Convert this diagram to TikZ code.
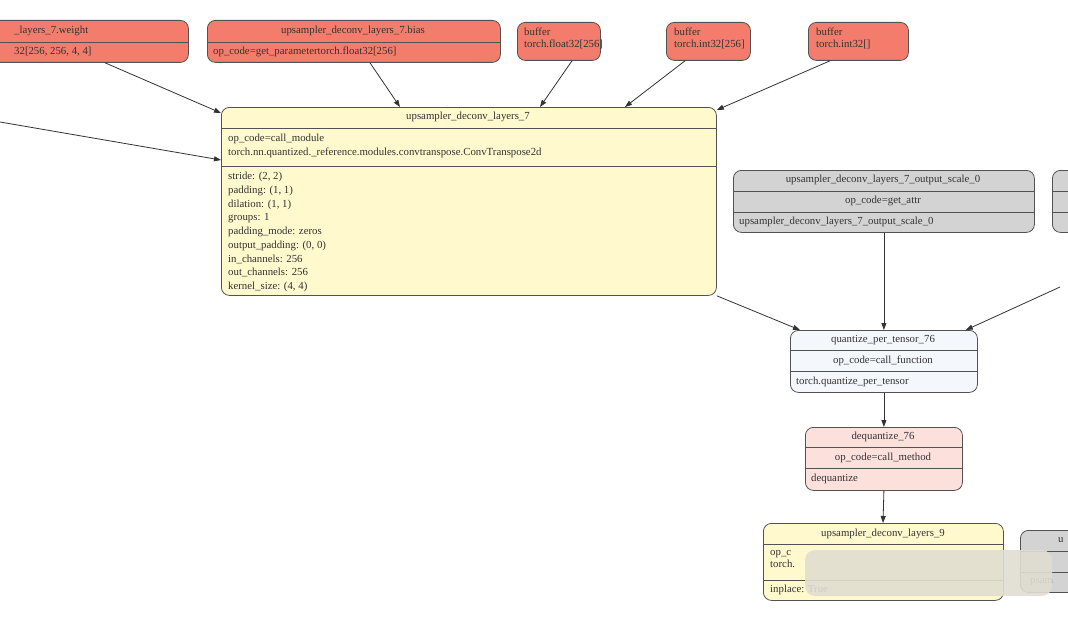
\documentclass[tikz,border=0pt]{standalone}
\usepackage{fontspec}
\setmainfont{Liberation Serif}
\usetikzlibrary{calc,arrows.meta}
\definecolor{salmon}{HTML}{F47C6C}
\definecolor{lemon}{HTML}{FFF9CD}
\definecolor{lgray}{HTML}{D3D3D3}
\definecolor{qblue}{HTML}{F4F7FC}
\definecolor{dqpink}{HTML}{FCE0DC}
\definecolor{ink}{HTML}{333333}
\tikzset{
  box/.style={draw=ink!85,line width=0.8pt,rounded corners=8pt,inner sep=0pt},
  dv/.style={draw=ink!85,line width=0.8pt},
  tx/.style={inner sep=0pt,text=ink,font=\fontsize{10.8}{13.75}\selectfont},
  ar/.style={draw=ink,line width=0.8pt,-{Triangle[length=7pt,width=5pt]}}
}
\newcommand{\mybox}[6]{% name, x1, y1, x2, y2, colour
  \node[box,fill=#6,minimum width=#4-#2,minimum height=#5-#3,anchor=north west] (#1) at (#2,#3) {};}
\begin{document}
\begin{tikzpicture}[x=1pt,y=-1pt]
\useasboundingbox (0,0) rectangle (1068,618);
\clip (0,0) rectangle (1068,618);
\fill[white] (0,0) rectangle (1068,618);
% weight
\mybox{wt}{-200}{20}{188}{62}{salmon}
\draw[dv] (-200,42) -- (188,42);
\node[tx,anchor=west] (wt1) at (14,31) {\_layers\_7.weight};
\node[tx,anchor=west] (wt2) at (14,52) {32[256, 256, 4, 4]};
% bias
\mybox{bs}{207}{20}{500}{62}{salmon}
\draw[dv] (207,42) -- (500,42);
\node[tx] at (353,31) {upsampler\_deconv\_layers\_7.bias};
\node[tx,anchor=west] at (213,52) {op\_code=get\_parametertorch.float32[256]};
% buffers
\mybox{b1}{517}{22}{600}{60}{salmon}
\node[tx,anchor=north west,align=left,font=\fontsize{10.8}{12}\selectfont] at (524,28) {buffer\\torch.float32[256]};
\mybox{b2}{666}{22}{750}{60}{salmon}
\node[tx,anchor=north west,align=left,font=\fontsize{10.8}{12}\selectfont] at (674,28) {buffer\\torch.int32[256]};
\mybox{b3}{808}{22}{908}{60}{salmon}
\node[tx,anchor=north west,align=left,font=\fontsize{10.8}{12}\selectfont] at (816,28) {buffer\\torch.int32[]};
% conv
\mybox{cv}{221}{107}{716}{295}{lemon}
\draw[dv] (221,128) -- (716,128);
\draw[dv] (221,166) -- (716,166);
\node[tx] at (468,117) {upsampler\_deconv\_layers\_7};
\node[tx,anchor=north west,align=left] at (228,134) {op\_code=call\_module\\torch.nn.quantized.\_reference.modules.convtranspose.ConvTranspose2d};
\node[tx,anchor=north west,align=left] at (228,172) {stride: (2, 2)\\padding: (1, 1)\\dilation: (1, 1)\\groups: 1\\padding\_mode: zeros\\output\_padding: (0, 0)\\in\_channels: 256\\out\_channels: 256\\kernel\_size: (4, 4)};
% gray scale
\mybox{gs}{733}{170}{1034}{232}{lgray}
\draw[dv] (733,191) -- (1034,191);
\draw[dv] (733,212) -- (1034,212);
\node[tx] at (883,180) {upsampler\_deconv\_layers\_7\_output\_scale\_0};
\node[tx] at (883,201) {op\_code=get\_attr};
\node[tx,anchor=west] at (739,222) {upsampler\_deconv\_layers\_7\_output\_scale\_0};
\mybox{gz}{1052}{170}{1300}{232}{lgray}
\draw[dv] (1052,191) -- (1300,191);
\draw[dv] (1052,212) -- (1300,212);
% quantize
\mybox{qt}{790}{330}{977}{392}{qblue}
\draw[dv] (790,350) -- (977,350);
\draw[dv] (790,371) -- (977,371);
\node[tx] at (883,340) {quantize\_per\_tensor\_76};
\node[tx] at (883,361) {op\_code=call\_function};
\node[tx,anchor=west] at (796,382) {torch.quantize\_per\_tensor};
% dequantize
\mybox{dq}{805}{427}{962}{490}{dqpink}
\draw[dv] (805,447) -- (962,447);
\draw[dv] (805,468) -- (962,468);
\node[tx] at (883,437) {dequantize\_76};
\node[tx] at (883,458) {op\_code=call\_method};
\node[tx,anchor=west] at (811,479) {dequantize};
% layers 9
\mybox{l9}{763}{523}{1003}{600}{lemon}
\draw[dv] (763,544) -- (1003,544);
\draw[dv] (763,580) -- (1003,580);
\node[tx] at (883,534) {upsampler\_deconv\_layers\_9};
\node[tx,anchor=north west,align=left,font=\fontsize{10.8}{12.5}\selectfont] at (770,550) {op\_c\\torch.};
\node[tx,anchor=west] at (770,590) {inplace: True};
% right gray bottom
\mybox{gb}{1020}{530}{1300}{592}{lgray}
\draw[dv] (1020,551) -- (1300,551);
\draw[dv] (1020,572) -- (1300,572);
\node[tx,anchor=west] at (1058,540) {u};
\node[tx,anchor=west] at (1030,582) {psam};
% blur
\fill[rounded corners=10pt,color=lgray!70!lemon,opacity=0.9] (805,550) rectangle (1052,596);
% connectors
\coordinate (lft) at (0,122);
\draw[ar] (lft) -- ($(cv.north west)+(0,53)$);
\draw[ar] ($(wt.south west)+(305,0)$) -- ($(cv.north west)+(0,6)$);
\draw[ar] ($(bs.south west)+(163,0)$) -- ($(cv.north west)+(179,0)$);
\draw[ar] ($(b1.south west)+(55,0)$) -- ($(cv.north west)+(319,0)$);
\draw[ar] ($(b2.south west)+(19,0)$) -- ($(cv.north west)+(404,0)$);
\draw[ar] ($(b3.south west)+(22,0)$) -- ($(cv.north east)+(0,3)$);
\draw[ar] (cv.south east) -- ($(qt.north west)+(10,0)$);
\draw[ar] (gs.south) -- (qt.north);
\coordinate (rin) at (1060,287);
\draw[ar] (rin) -- ($(qt.north east)+(-12,0)$);
\draw[ar] (qt.south) -- (dq.north);
\draw[ar] (dq.south) -- ($(l9.north west)+(120,0)$);
\end{tikzpicture}
\end{document}
